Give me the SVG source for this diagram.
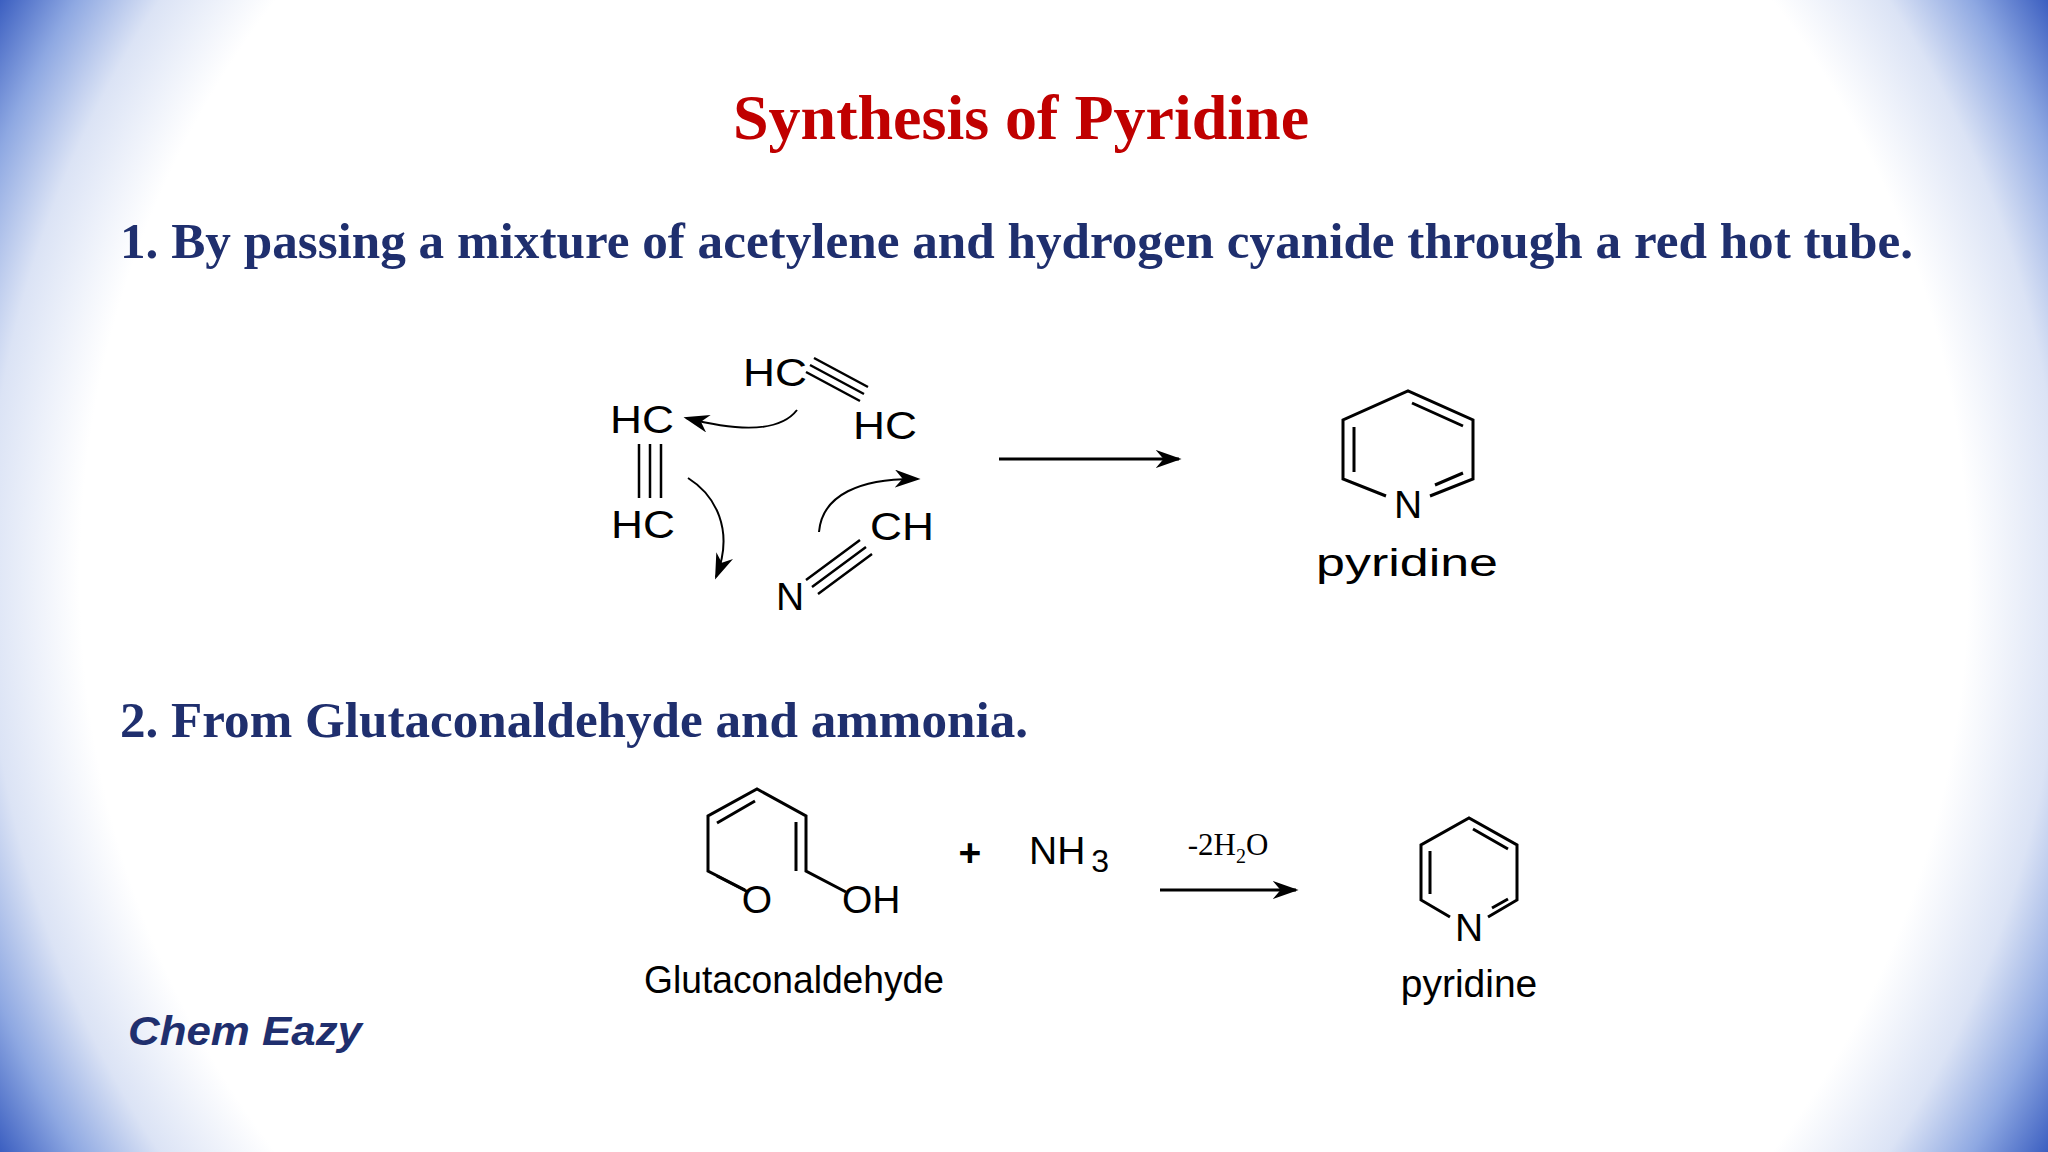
<svg xmlns="http://www.w3.org/2000/svg" width="2048" height="1152" viewBox="0 0 2048 1152">
<defs>
<radialGradient id="bg2" gradientUnits="userSpaceOnUse" cx="1024" cy="576" r="1180">
<stop offset="0" stop-color="#ffffff"/>
<stop offset="0.8" stop-color="#ffffff"/>
<stop offset="0.88" stop-color="#dbe3f5"/>
<stop offset="0.94" stop-color="#8ea8e2"/>
<stop offset="1" stop-color="#3559be"/>
</radialGradient>
<marker id="ah2" viewBox="0 0 20 14" refX="18" refY="7" markerWidth="26" markerHeight="18" markerUnits="userSpaceOnUse" orient="auto">
<path d="M0,0 L20,7 L0,14 L6,7 Z" fill="#000"/>
</marker>
</defs>
<style>
.t{font-family:"Liberation Serif",serif;font-weight:bold;fill:#1f2f6e;font-size:50px}
.c{font-family:"Liberation Sans",Arial,sans-serif;fill:#000;font-size:39px}
.b{stroke:#000;stroke-width:3;fill:none}
.cv{stroke:#000;stroke-width:2;fill:none}
.tb{stroke:#000;stroke-width:2.5;fill:none}
</style>
<rect width="2048" height="1152" fill="url(#bg2)"/>
<text x="1021" y="139" text-anchor="middle" font-family="Liberation Serif,serif" font-weight="bold" font-size="64" fill="#c00000">Synthesis of Pyridine</text>
<text class="t" x="120" y="258" textLength="1793" lengthAdjust="spacingAndGlyphs">1. By passing a mixture of acetylene and hydrogen cyanide through a red hot tube.</text>
<text class="t" x="120" y="737" textLength="908" lengthAdjust="spacingAndGlyphs">2. From Glutaconaldehyde and ammonia.</text>

<g id="hc-top"><text class="c" x="743" y="386" textLength="64" lengthAdjust="spacingAndGlyphs">HC</text></g>
<g id="hc-right"><text class="c" x="853" y="439" textLength="64" lengthAdjust="spacingAndGlyphs">HC</text></g>
<g id="hc-left-top"><text class="c" x="610" y="433" textLength="64" lengthAdjust="spacingAndGlyphs">HC</text></g>
<g id="hc-left-bot"><text class="c" x="611" y="538" textLength="64" lengthAdjust="spacingAndGlyphs">HC</text></g>
<g id="ch"><text class="c" x="870" y="540" textLength="64" lengthAdjust="spacingAndGlyphs">CH</text></g>
<g id="n1"><text class="c" x="776" y="610">N</text></g>
<g id="pyr1">
<path class="b" d="M1430,496 L1473,479 L1473,420 L1408,391 L1343,420 L1343,479 L1386,496"/>
<path class="b" d="M1412,403 L1463,426 M1354,427 L1354,472 M1435,485 L1463,473"/>
<text class="c" x="1408" y="518" text-anchor="middle" font-size="37">N</text>
<text class="c" x="1407" y="576" text-anchor="middle" font-size="40" textLength="182" lengthAdjust="spacingAndGlyphs">pyridine</text>
</g>
<g id="glut">
<path class="b" d="M745,890 L708,871 L708,816 L757,789 L806,816 L806,871 L846,892"/>
<path class="b" d="M717,823 L755,801 M717,876 L748,892 M796,822 L796,871"/>
<text class="c" x="757" y="913" text-anchor="middle" font-size="37">O</text>
<text class="c" x="842" y="913" font-size="37">OH</text>
<text class="c" x="794" y="993" text-anchor="middle" font-size="37" textLength="300" lengthAdjust="spacingAndGlyphs">Glutaconaldehyde</text>
</g>
<g id="plus"><text class="c" x="970" y="866" text-anchor="middle" font-size="44" font-weight="bold">+</text></g>
<g id="nh3"><text class="c" x="1029" y="864" font-size="37">NH<tspan dx="6" dy="8" font-size="32">3</tspan></text></g>
<g id="pyr2">
<path class="b" d="M1488,917 L1517,900 L1517,845 L1469,818 L1421,845 L1421,900 L1450,917"/>
<path class="b" d="M1473,829 L1508,849 M1430,851 L1430,894 M1492,908 L1508,899"/>
<text class="c" x="1469" y="941" text-anchor="middle" font-size="35">N</text>
<text class="c" x="1469" y="997" text-anchor="middle" font-size="37">pyridine</text>
</g>
<g id="conn">
<path class="tb" d="M806,372 L860,401 M810,365 L864,394 M814,358 L868,387"/>
<path class="tb" d="M639,444 V498 M650,444 V498 M661,444 V498"/>
<path class="tb" d="M806,580 L860,540 M812,587 L866,547 M818,594 L872,554"/>
<path class="cv" d="M797,410 C780,432 740,432 686,418" marker-end="url(#ah2)"/>
<path class="cv" d="M688,478 C715,495 735,530 716,577" marker-end="url(#ah2)"/>
<path class="cv" d="M819,532 C822,495 860,478 918,479" marker-end="url(#ah2)"/>
<path class="b" d="M999,459 L1179,459" marker-end="url(#ah2)"/>
<path class="b" d="M1160,890 L1296,890" marker-end="url(#ah2)"/>
<text x="1228" y="855" text-anchor="middle" font-family="Liberation Serif,serif" font-size="31">-2H<tspan dy="8" font-size="20">2</tspan><tspan dy="-8">O</tspan></text>
</g>
<text x="128" y="1045" font-family="Liberation Sans,Arial,sans-serif" font-weight="bold" font-style="italic" font-size="40" fill="#1f2f6e" textLength="234" lengthAdjust="spacingAndGlyphs">Chem Eazy</text>
</svg>
